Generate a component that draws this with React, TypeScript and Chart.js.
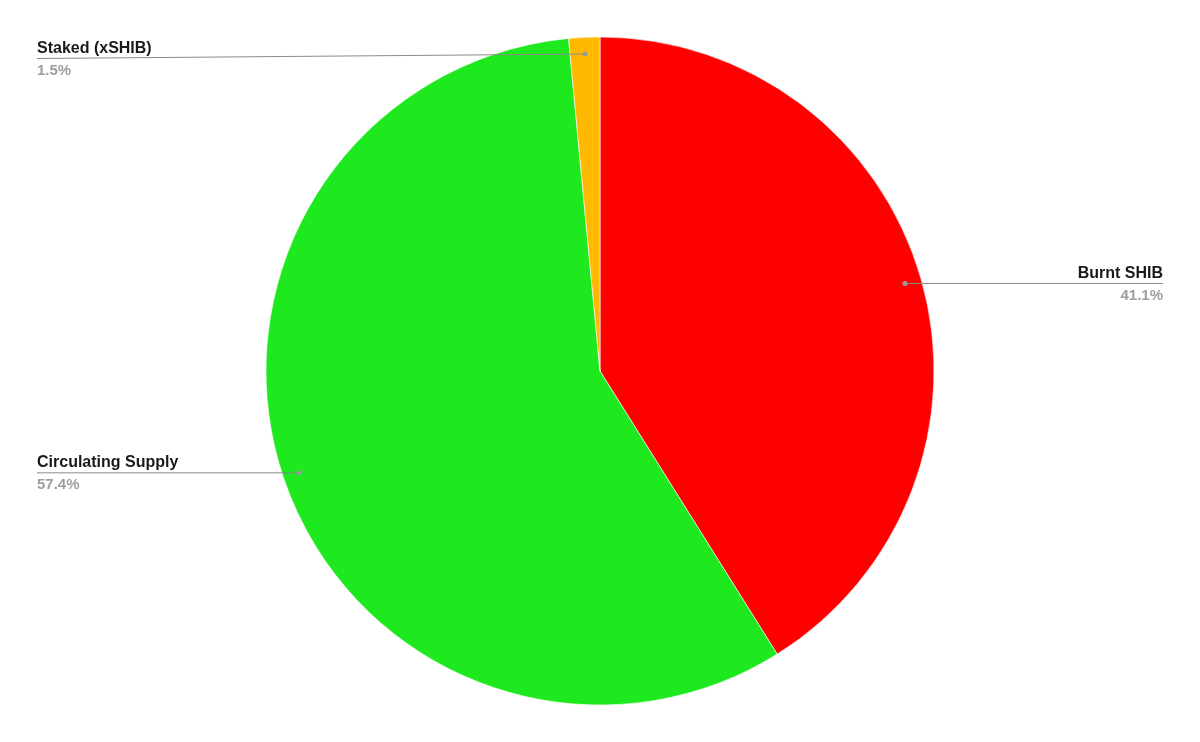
import React, { useEffect, useRef } from "react";
import { Chart, registerables } from "chart.js";

Chart.register(...registerables);

const categories = ["Burnt SHIB", "Circulating Supply", "Staked (xSHIB)"];
const values = [41.1, 57.4, 1.5];
const percentLabels = ["41.1%", "57.4%", "1.5%"];
const colors = ["#FF0000", "#1EE81E", "#FFB900"];

const labelPlugin = {
  id: "leaderLabels",
  afterDatasetsDraw(chart: any) {
    const ctx = chart.ctx as CanvasRenderingContext2D;
    const meta = chart.getDatasetMeta(0);
    const leftX = 37;
    const rightX = chart.width - 37;
    meta.data.forEach((arc: any, i: number) => {
      const { x, y, startAngle, endAngle, outerRadius } = arc.getProps(
        ["x", "y", "startAngle", "endAngle", "outerRadius"],
        true
      );
      const mid = (startAngle + endAngle) / 2;
      const r = outerRadius * 0.95;
      const dx = x + Math.cos(mid) * r;
      const dy = y + Math.sin(mid) * r;
      const right = Math.cos(mid) >= 0;
      const ly = Math.max(dy, 58.5);
      const ex = right ? rightX : leftX;
      ctx.save();
      ctx.strokeStyle = "#8a8a8a";
      ctx.lineWidth = 1;
      ctx.beginPath();
      ctx.moveTo(dx, dy);
      ctx.lineTo(ex, ly);
      ctx.stroke();
      ctx.fillStyle = "#9a9a9a";
      ctx.beginPath();
      ctx.arc(dx, dy, 2.5, 0, Math.PI * 2);
      ctx.fill();
      ctx.textAlign = right ? "right" : "left";
      ctx.textBaseline = "alphabetic";
      ctx.fillStyle = "#1a1a1a";
      ctx.font = "bold 16px 'Liberation Sans', Arial, sans-serif";
      ctx.fillText(categories[i], ex, ly - 5.5);
      ctx.fillStyle = "#9e9e9e";
      ctx.font = "bold 15px 'Liberation Sans', Arial, sans-serif";
      ctx.fillText(percentLabels[i], ex, ly + 16.5);
      ctx.restore();
    });
  },
};

export default function App() {
  const ref = useRef<HTMLCanvasElement | null>(null);
  useEffect(() => {
    document.body.style.margin = "0";
    const chart = new Chart(ref.current as HTMLCanvasElement, {
      type: "pie",
      data: {
        labels: categories,
        datasets: [
          {
            data: values,
            backgroundColor: colors,
            borderColor: "#ffffff",
            borderWidth: 0.6,
          },
        ],
      },
      options: {
        animation: false,
        responsive: false,
        radius: 334,
        layout: { padding: { top: 37, bottom: 37 } },
        plugins: {
          legend: { display: false },
          tooltip: { enabled: false },
        },
      },
      plugins: [labelPlugin],
    });
    return () => chart.destroy();
  }, []);
  return (
    <div style={{ width: 1200, height: 742, background: "#fff" }}>
      <canvas ref={ref} width={1200} height={742} style={{ display: "block" }} />
    </div>
  );
}
